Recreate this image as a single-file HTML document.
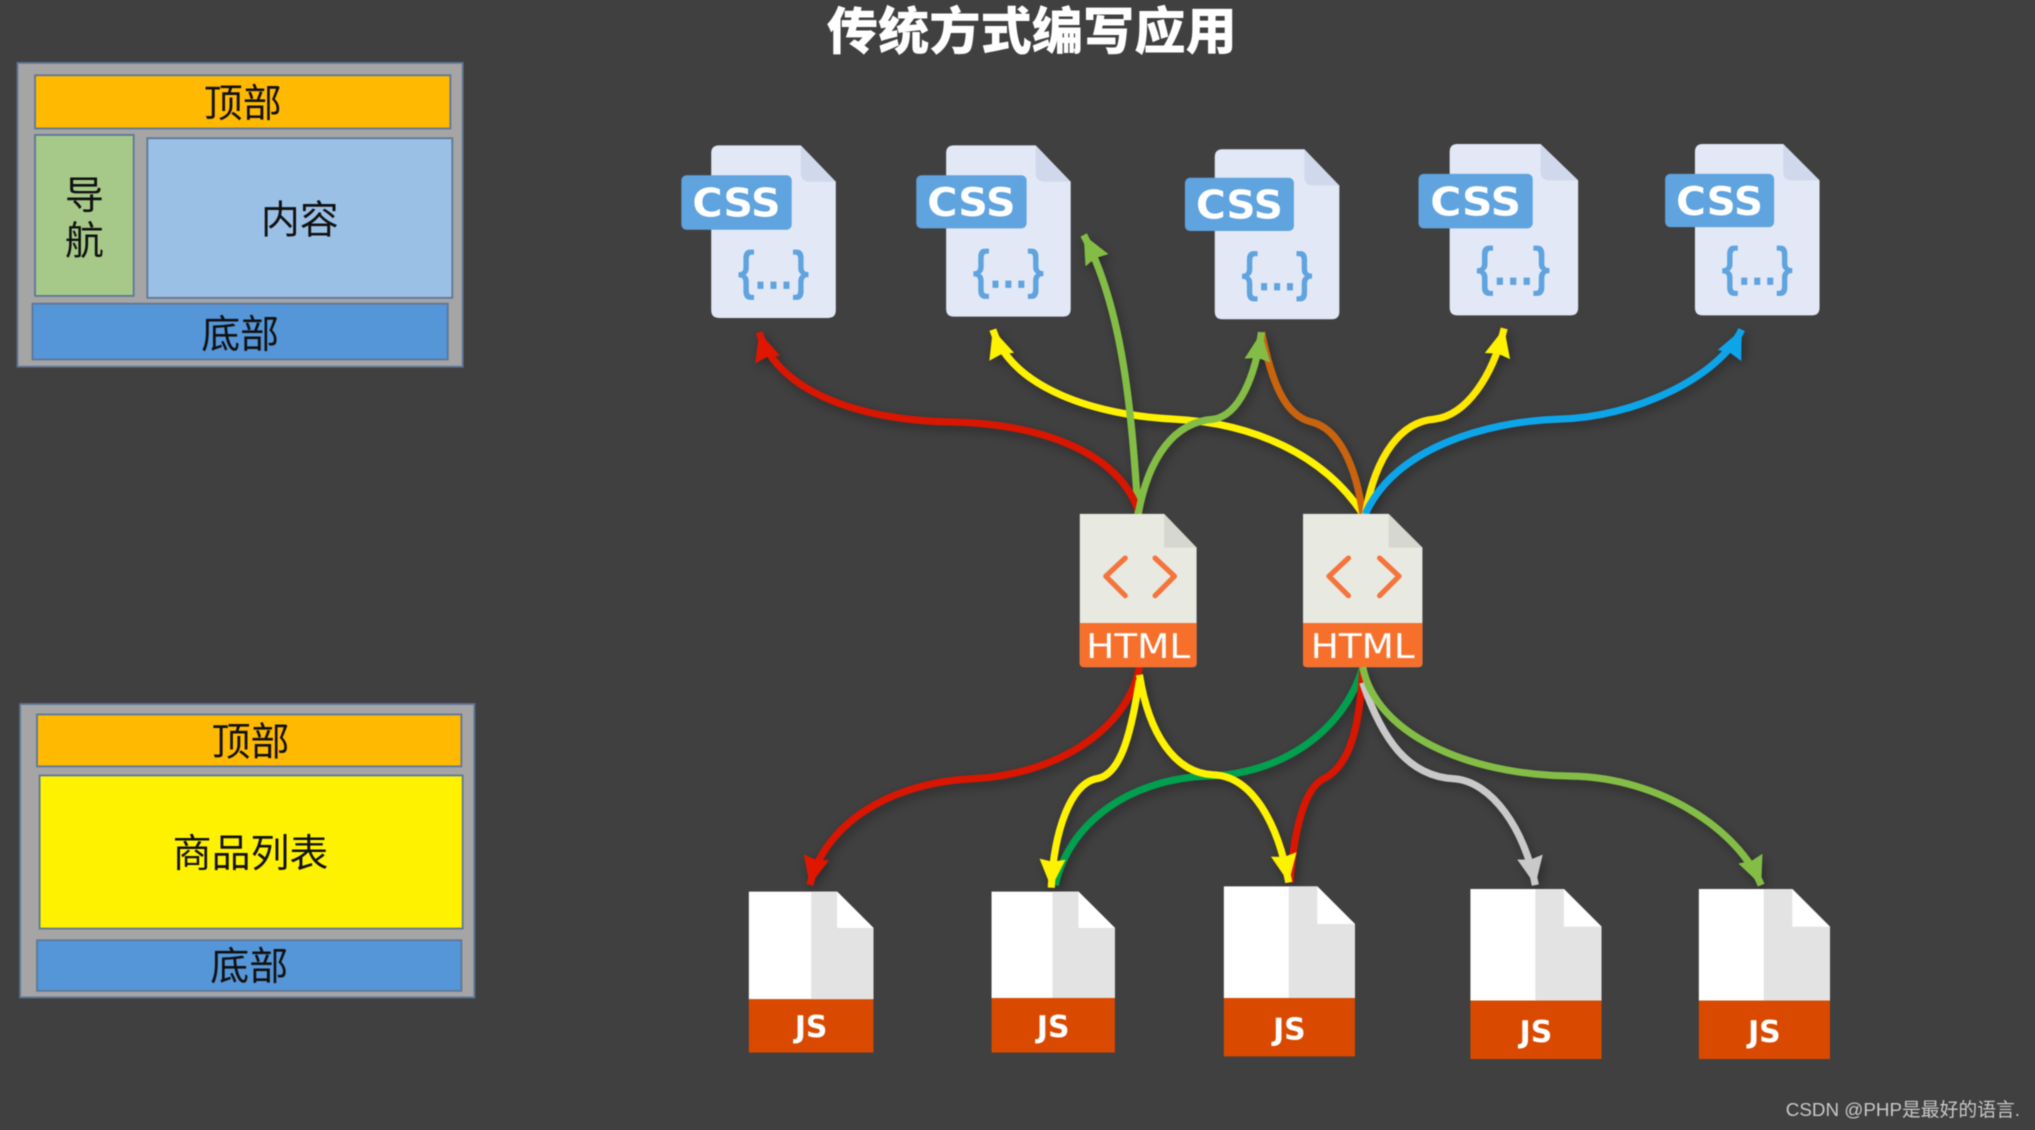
<!DOCTYPE html>
<html lang="zh">
<head>
<meta charset="utf-8">
<title>传统方式编写应用</title>
<style>
html,body{margin:0;padding:0;background:#404040;}
svg{display:block;width:2035px;height:1130px;filter:blur(.5px);}
.cjk{font-family:"Liberation Sans","Noto Sans CJK SC",sans-serif;}
.lbl{font-size:30px;fill:#111;text-anchor:middle;}
.css{font-family:"DejaVu Sans","Liberation Sans",sans-serif;font-weight:bold;font-size:30px;fill:#fff;text-anchor:middle;}
.br{font-family:"Liberation Sans",sans-serif;font-size:40px;fill:#5fa3df;stroke:#5fa3df;stroke-width:1.3;text-anchor:middle;}
.html{font-family:"DejaVu Sans","Liberation Sans",sans-serif;font-size:26px;fill:#fff;text-anchor:middle;}
.js{font-family:"DejaVu Sans","Liberation Sans",sans-serif;font-weight:bold;font-size:23px;fill:#fff;text-anchor:middle;}
.c{fill:none;stroke-width:5.5;stroke-linecap:butt;}
</style>
</head>
<body>
<svg viewBox="0 0 1568 870.7" xmlns="http://www.w3.org/2000/svg">
<defs>
<filter id="sh" x="-20%" y="-20%" width="140%" height="140%"><feDropShadow dx="2" dy="3" stdDeviation="4" flood-color="#000" flood-opacity=".35"/></filter>
<marker id="mRed" markerUnits="userSpaceOnUse" markerWidth="28" markerHeight="28" refX="22" refY="11" orient="auto"><path d="M0 1L22 11L0 21L2 11Z" fill="#e01500"/></marker>
<marker id="mYel" markerUnits="userSpaceOnUse" markerWidth="28" markerHeight="28" refX="22" refY="11" orient="auto"><path d="M0 1L22 11L0 21L2 11Z" fill="#fff200"/></marker>
<marker id="mGrn" markerUnits="userSpaceOnUse" markerWidth="28" markerHeight="28" refX="22" refY="11" orient="auto"><path d="M0 1L22 11L0 21L2 11Z" fill="#84bd45"/></marker>
<marker id="mBlu" markerUnits="userSpaceOnUse" markerWidth="28" markerHeight="28" refX="22" refY="11" orient="auto"><path d="M0 1L22 11L0 21L2 11Z" fill="#0ea5ea"/></marker>
<marker id="mGry" markerUnits="userSpaceOnUse" markerWidth="28" markerHeight="28" refX="22" refY="11" orient="auto"><path d="M0 1L22 11L0 21L2 11Z" fill="#c9c9c9"/></marker>
</defs>
<rect width="1568" height="871" fill="#404040"/>

<text class="cjk" x="795" y="38" text-anchor="middle" font-size="39.500" font-weight="900" fill="#fff">传统方式编写应用</text>

<!-- left box 1 -->
<g stroke="#5f7797" stroke-width="1.4">
<rect x="13.500" y="48.500" width="343" height="234" fill="#a5a5a5"/>
<rect x="27" y="58" width="320" height="41" fill="#ffb900"/>
<rect x="27" y="104" width="76" height="124" fill="#a6c98a"/>
<rect x="113.500" y="106.500" width="235" height="123" fill="#9bc0e6"/>
<rect x="25" y="234" width="320" height="43" fill="#5496d8"/>
</g>
<g class="cjk">
<text class="lbl" x="187" y="90">顶部</text>
<text class="lbl" x="65" y="161">导</text>
<text class="lbl" x="65" y="196">航</text>
<text class="lbl" x="231" y="180">内容</text>
<text class="lbl" x="185" y="268">底部</text>
</g>

<!-- left box 2 -->
<g stroke="#5f7797" stroke-width="1.4">
<rect x="15.500" y="542.500" width="350" height="226" fill="#a5a5a5"/>
<rect x="28.500" y="550.500" width="327" height="40" fill="#ffb900"/>
<rect x="30.500" y="597.500" width="326" height="118" fill="#fff200"/>
<rect x="28.500" y="724.500" width="327" height="39" fill="#5496d8"/>
</g>
<g class="cjk">
<text class="lbl" x="193" y="582">顶部</text>
<text class="lbl" x="193" y="668">商品列表</text>
<text class="lbl" x="192" y="755">底部</text>
</g>

<!-- CSS icons -->
<g transform="translate(548,112)">
<path d="M6 0H69L96 28V127Q96 133 90 133H6Q0 133 0 127V6Q0 0 6 0Z" fill="#e2e8f6"/>
<path d="M69 0L96 28H76Q69 28 69 21Z" fill="#d0d9ec"/>
<rect x="-23" y="23" width="85" height="42" rx="4" fill="#5fa3df"/>
<text class="css" x="19.500" y="55" textLength="68" lengthAdjust="spacingAndGlyphs">CSS</text>
<text class="br" x="48" y="110" textLength="54" lengthAdjust="spacingAndGlyphs">{...}</text>
</g>
<g transform="translate(729,112)">
<path d="M6 0H69L96 28V126Q96 132 90 132H6Q0 132 0 126V6Q0 0 6 0Z" fill="#e2e8f6"/>
<path d="M69 0L96 28H76Q69 28 69 21Z" fill="#d0d9ec"/>
<rect x="-23" y="23" width="85" height="41" rx="4" fill="#5fa3df"/>
<text class="css" x="19.500" y="54.500" textLength="68" lengthAdjust="spacingAndGlyphs">CSS</text>
<text class="br" x="48" y="109" textLength="54" lengthAdjust="spacingAndGlyphs">{...}</text>
</g>
<g transform="translate(936,115)">
<path d="M6 0H69L96 28V125Q96 131 90 131H6Q0 131 0 125V6Q0 0 6 0Z" fill="#e2e8f6"/>
<path d="M69 0L96 28H76Q69 28 69 21Z" fill="#d0d9ec"/>
<rect x="-23" y="22" width="84" height="41" rx="4" fill="#5fa3df"/>
<text class="css" x="19" y="53.500" textLength="67" lengthAdjust="spacingAndGlyphs">CSS</text>
<text class="br" x="48" y="108" textLength="54" lengthAdjust="spacingAndGlyphs">{...}</text>
</g>
<g transform="translate(1117,111)">
<path d="M6 0H70L99 28V126Q99 132 93 132H6Q0 132 0 126V6Q0 0 6 0Z" fill="#e2e8f6"/>
<path d="M70 0L99 28H77Q70 28 70 21Z" fill="#d0d9ec"/>
<rect x="-24" y="23" width="88" height="42" rx="4" fill="#5fa3df"/>
<text class="css" x="20" y="55" textLength="70" lengthAdjust="spacingAndGlyphs">CSS</text>
<text class="br" x="49" y="108" textLength="56" lengthAdjust="spacingAndGlyphs">{...}</text>
</g>
<g transform="translate(1306,111)">
<path d="M6 0H68L96 28V126Q96 132 90 132H6Q0 132 0 126V6Q0 0 6 0Z" fill="#e2e8f6"/>
<path d="M68 0L96 28H75Q68 28 68 21Z" fill="#d0d9ec"/>
<rect x="-23" y="23" width="84" height="41" rx="4" fill="#5fa3df"/>
<text class="css" x="19" y="54.500" textLength="67" lengthAdjust="spacingAndGlyphs">CSS</text>
<text class="br" x="48" y="108" textLength="54" lengthAdjust="spacingAndGlyphs">{...}</text>
</g>

<!-- connectors top -->
<g filter="url(#sh)">
<path class="c" stroke="#fff200" d="M1050 396C1020 350 965 326 905 323C845 320 780 300 765 254" marker-end="url(#mYel)"/>
<path class="c" stroke="#84bd45" d="M877 396C872 320 866 240 835 181" marker-end="url(#mGrn)"/>
<path class="c" stroke="#d91400" d="M878 396C862 345 795 326 730 325C670 324 600 305 585 256" marker-end="url(#mRed)"/>
<path class="c" stroke="#c9640f" d="M1050 396C1045 360 1032 330 1010 325C990 320 980 295 972 256"/>
<path class="c" stroke="#84bd45" d="M877 396C885 352 905 325 935 323C955 320 967 290 972 256" marker-end="url(#mGrn)"/>
<path class="c" stroke="#ffe800" d="M1052 396C1060 350 1080 325 1105 323C1130 320 1150 290 1159 253" marker-end="url(#mYel)"/>
<path class="c" stroke="#0ea5ea" d="M1052 396C1075 345 1145 325 1200 323C1260 322 1325 290 1342 254" marker-end="url(#mBlu)"/>
</g>

<!-- connectors bottom -->
<g filter="url(#sh)">
<path class="c" stroke="#d91400" d="M878 514C868 565 810 597 750 600C685 603 635 635 624 682" marker-end="url(#mRed)"/>
<path class="c" stroke="#00a04f" d="M1050 514C1035 565 985 597 930 598C875 600 825 630 813 682"/>
<path class="c" stroke="#d91400" d="M1050 514C1048 560 1040 590 1020 600C1005 607 997 640 994 680"/>
<path class="c" stroke="#fff200" d="M878 524C872 560 865 597 845 600C825 604 812 640 810 684" marker-end="url(#mYel)"/>
<path class="c" stroke="#fff200" d="M878 520C885 565 905 596 935 597C965 598 985 635 993 680" marker-end="url(#mYel)"/>
<path class="c" stroke="#c9c9c9" d="M1050 526C1065 570 1085 598 1120 600C1150 602 1175 640 1183 682" marker-end="url(#mGry)"/>
<path class="c" stroke="#84bd45" d="M1050 514C1060 565 1130 597 1210 598C1280 599 1340 640 1357 682" marker-end="url(#mGrn)"/>
</g>

<!-- HTML icons -->
<g transform="translate(832,396)">
<path d="M0 0H65L90 26V115Q90 118 87 118H3Q0 118 0 115Z" fill="#e8e9e1"/>
<path d="M65 0L90 26H65Z" fill="#d6d7ce"/>
<path d="M0 84H90V115Q90 118 87 118H3Q0 118 0 115Z" fill="#f7702b"/>
<path d="M35 34L20 48L35 63M58 34L73 48L58 63" fill="none" stroke="#f4743b" stroke-width="4" stroke-linecap="round" stroke-linejoin="round"/>
<text class="html" x="45" y="111" textLength="80" lengthAdjust="spacingAndGlyphs">HTML</text>
</g>
<g transform="translate(1004,396)">
<path d="M0 0H66L92 26V115Q92 118 89 118H3Q0 118 0 115Z" fill="#e8e9e1"/>
<path d="M66 0L92 26H66Z" fill="#d6d7ce"/>
<path d="M0 84H92V115Q92 118 89 118H3Q0 118 0 115Z" fill="#f7702b"/>
<path d="M35 34L20 48L35 63M59 34L74 48L59 63" fill="none" stroke="#f4743b" stroke-width="4" stroke-linecap="round" stroke-linejoin="round"/>
<text class="html" x="46" y="111" textLength="80" lengthAdjust="spacingAndGlyphs">HTML</text>
</g>

<!-- JS icons -->
<g transform="translate(577,687)">
<path d="M0 0H68L96 28V83H0Z" fill="#fff"/>
<path d="M48 0H68L96 28V83H48Z" fill="#e4e3e3"/>
<path d="M68 0L96 28H68Z" fill="#fff"/>
<rect y="83" width="96" height="41" fill="#d94a00"/>
<text class="js" x="48" y="112">JS</text>
</g>
<g transform="translate(764,687)">
<path d="M0 0H67L95 28V82H0Z" fill="#fff"/>
<path d="M47 0H67L95 28V82H47Z" fill="#e4e3e3"/>
<path d="M67 0L95 28H67Z" fill="#fff"/>
<rect y="82" width="95" height="42" fill="#d94a00"/>
<text class="js" x="47.500" y="112">JS</text>
</g>
<g transform="translate(943,683)">
<path d="M0 0H72L101 29V86H0Z" fill="#fff"/>
<path d="M50 0H72L101 29V86H50Z" fill="#e4e3e3"/>
<path d="M72 0L101 29H72Z" fill="#fff"/>
<rect y="86" width="101" height="45" fill="#d94a00"/>
<text class="js" x="50.500" y="118">JS</text>
</g>
<g transform="translate(1133,685)">
<path d="M0 0H72L101 29V86H0Z" fill="#fff"/>
<path d="M50 0H72L101 29V86H50Z" fill="#e4e3e3"/>
<path d="M72 0L101 29H72Z" fill="#fff"/>
<rect y="86" width="101" height="45" fill="#d94a00"/>
<text class="js" x="50.500" y="118">JS</text>
</g>
<g transform="translate(1309,685)">
<path d="M0 0H72L101 29V86H0Z" fill="#fff"/>
<path d="M50 0H72L101 29V86H50Z" fill="#e4e3e3"/>
<path d="M72 0L101 29H72Z" fill="#fff"/>
<rect y="86" width="101" height="45" fill="#d94a00"/>
<text class="js" x="50.500" y="118">JS</text>
</g>

<text class="cjk" x="1376" y="860" font-size="14.500" fill="#c8c8c8">CSDN @PHP是最好的语言.</text>
</svg>
</body>
</html>
